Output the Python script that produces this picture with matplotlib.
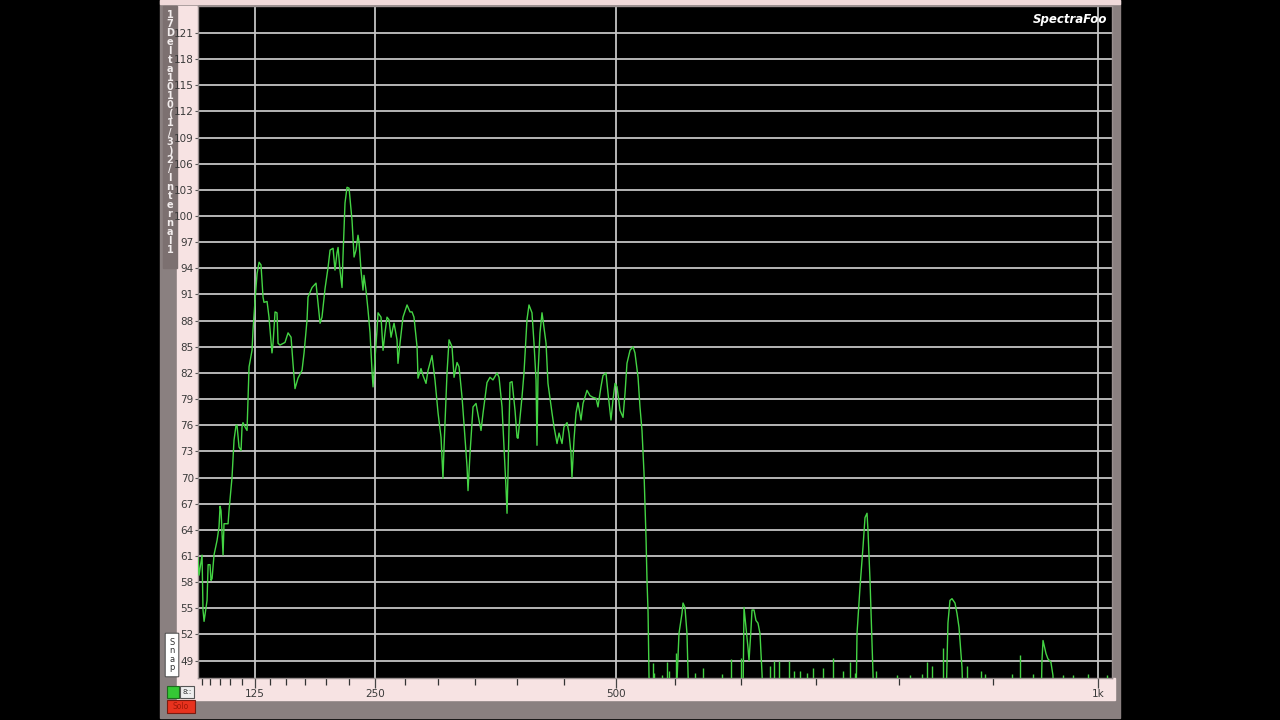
import matplotlib.pyplot as plt
from matplotlib.patches import Rectangle, FancyBboxPatch

# SpectraFoo analyser trace, frequency in Hz and level in dB
freq_hz = [65.8, 66.9, 70.0, 71.0, 72.1, 75.2, 76.3, 78.3, 79.3, 80.4, 82.4, 85.6, 87.6, 88.7, 89.7,
           91.8, 92.8, 97.0, 98.0, 101.1, 103.2, 105.3, 106.3, 108.4, 110.5, 111.5, 112.5, 114.6,
           116.7, 117.7, 118.8, 121.9, 122.9, 125.0, 127.1, 129.2, 131.2, 133.3, 134.3, 137.5,
           139.5, 142.6, 143.7, 145.8, 147.8, 148.9, 150.9, 156.1, 159.3, 162.4, 164.4, 166.5,
           169.6, 173.8, 175.9, 179.0, 180.0, 184.2, 188.3, 190.4, 192.5, 194.5, 197.7, 200.8,
           202.9, 206.0, 208.0, 210.1, 211.2, 213.2, 215.3, 216.3, 218.4, 220.5, 222.6, 225.7,
           227.8, 229.8, 231.9, 233.0, 235.0, 237.1, 238.1, 240.2, 242.3, 244.4, 246.4, 247.5,
           249.6, 251.6, 252.7, 255.8, 257.9, 259.9, 262.0, 264.1, 266.2, 268.2, 269.3, 272.4,
           273.4, 275.5, 278.6, 282.8, 285.9, 288.0, 290.0, 293.2, 294.2, 297.3, 299.4, 302.5,
           304.6, 308.7, 311.8, 315.0, 318.1, 320.1, 321.2, 324.3, 326.4, 329.5, 331.6, 334.7,
           336.8, 339.9, 341.9, 345.1, 346.1, 348.2, 351.3, 354.4, 357.5, 359.6, 361.7, 365.8,
           368.9, 372.0, 376.2, 378.3, 381.4, 383.5, 385.5, 386.6, 387.6, 389.7, 391.8, 394.9,
           397.0, 398.0, 402.1, 404.2, 407.3, 409.4, 412.5, 414.6, 416.7, 417.7, 418.8, 420.8,
           422.9, 423.9, 427.1, 429.1, 433.3, 435.4, 438.5, 440.6, 443.7, 445.7, 448.9, 450.9,
           453.0, 454.0, 456.1, 458.2, 460.3, 463.4, 465.5, 469.6, 472.7, 475.8, 479.0, 481.0,
           484.1, 486.2, 489.3, 491.4, 494.5, 496.6, 498.7, 500.8, 503.9, 507.0, 509.1, 511.1,
           514.3, 517.4, 519.4, 522.6, 524.6, 526.7, 528.8, 530.9, 531.9, 533.0, 534.0, 535.5,
           562.0, 565.1, 568.2, 569.3, 571.3, 573.4, 574.5, 575.5,
           631.5, 632.6, 634.7, 636.7, 637.8, 639.8, 640.9, 643.0, 645.0, 647.1, 649.2, 651.3, 652.5,
           748.9, 749.9, 753.0, 756.1, 758.2, 760.3, 761.3, 763.4, 765.4, 766.5, 767.5,
           842.3, 844.3, 846.4, 848.5, 851.6, 853.7, 855.8, 858.9, 860.0,
           941.0, 941.9, 943.0, 946.1, 948.1, 951.2, 953.3, 954.5, 1014.6]
level_db = [60.8, 58.8, 61.1, 54.8, 53.5, 55.9, 60.0, 60.0, 58.2, 58.4, 61.1, 62.8, 64.3, 66.7, 66.2,
            61.1, 64.7, 64.7, 66.2, 70.0, 74.3, 76.0, 76.0, 73.5, 73.1, 75.8, 76.3, 75.8,
            75.4, 78.9, 82.7, 84.6, 86.9, 90.3, 93.4, 94.7, 94.4, 90.7, 90.1, 90.2,
            88.4, 84.3, 85.4, 89.0, 88.9, 85.4, 85.2, 85.5, 86.6, 86.1, 83.1, 80.2,
            81.4, 82.3, 84.3, 88.1, 90.7, 91.8, 92.3, 90.0, 87.7, 88.4, 91.7, 94.1,
            96.1, 96.3, 93.8, 95.8, 96.4, 93.8, 91.8, 95.3, 101.5, 103.3, 103.2, 99.5,
            95.3, 96.1, 97.8, 97.0, 93.8, 91.5, 93.2, 91.5, 89.2, 86.6, 82.3, 80.4,
            83.7, 86.9, 88.9, 88.4, 84.6, 86.6, 88.4, 88.1, 86.1, 87.2, 87.7, 85.8,
            83.1, 85.4, 88.4, 89.8, 89.0, 89.0, 88.4, 85.0, 81.4, 82.5, 81.7, 80.8,
            82.3, 84.0, 81.2, 77.4, 74.6, 69.9, 73.5, 82.0, 85.8, 85.0, 81.5, 83.2,
            82.7, 79.2, 76.2, 71.2, 68.5, 72.8, 78.1, 78.5, 76.6, 75.4, 77.4, 80.9,
            81.5, 81.2, 82.0, 81.5, 78.1, 73.5, 68.9, 65.9, 70.5, 80.9, 81.0, 77.7,
            74.6, 74.5, 79.2, 82.0, 88.1, 89.8, 88.9, 85.4, 81.2, 73.7, 82.0, 86.6,
            88.9, 88.1, 85.4, 80.8, 77.4, 75.8, 73.9, 75.1, 73.9, 75.8, 76.3, 75.1,
            72.8, 70.0, 74.3, 77.4, 78.6, 76.6, 78.5, 80.0, 79.4, 79.2, 79.1, 78.1,
            80.4, 81.7, 82.0, 79.7, 76.6, 78.9, 80.8, 80.4, 77.7, 76.9, 79.7, 83.1,
            84.6, 85.0, 84.3, 81.5, 78.1, 75.4, 70.5, 63.0, 58.2, 54.5, 47.1, 44.0,
            44.0, 52.1, 54.4, 55.6, 55.1, 52.1, 47.5, 44.0,
            44.0, 55.1, 52.8, 50.5, 49.0, 52.5, 54.8, 54.8, 53.6, 53.3, 52.1, 47.5, 44.0,
            44.0, 52.1, 57.4, 62.0, 65.4, 65.9, 63.9, 58.2, 51.3, 47.5, 44.0,
            44.0, 53.3, 55.9, 56.1, 55.6, 54.4, 52.8, 48.2, 44.0,
            44.0, 49.0, 51.3, 49.8, 49.2, 48.8, 47.3, 44.0, 44.0]

# short noise spikes poking above the bottom edge
spike_hz = [538.1, 539.2, 547.5, 552.7, 554.7, 562.0, 581.7, 590.0, 609.7, 619.1, 629.5,
            659.6, 663.7, 668.9, 679.3, 684.5, 690.7, 698.0, 704.2, 714.6, 725.0, 735.3,
            742.6, 747.8, 769.6, 791.4, 804.9, 817.3, 822.5, 827.7, 839.1, 864.1, 878.6,
            882.7, 910.8, 919.1, 932.6, 963.7, 974.1, 989.7, 1009.4]
spike_db = [48.7, 47.6, 47.4, 48.8, 47.8, 49.9, 47.6, 48.2, 47.5, 49.2, 49.3,
            48.4, 49.0, 49.0, 49.0, 47.8, 47.8, 47.6, 48.2, 48.2, 49.3, 47.8,
            48.8, 47.6, 47.8, 47.4, 47.3, 47.5, 48.8, 48.4, 50.4, 48.4, 47.8,
            47.5, 47.5, 49.6, 47.5, 47.3, 47.3, 47.5, 47.3]

y_ticks = list(range(49, 122, 3))
x_ticks = [125, 250, 500, 1000]
x_tick_labels = ['125', '250', '500', '1k']
x_minor = [125 * 2 ** (k / 6) for k in range(-5, 19) if k % 6 != 0]
side_label = '17Delta1010(1/3)2/Internal1'

TRACE = '#44d444'
GRID = '#c4c4c4'
FRAME = '#8a8080'
PINK = '#f7e3e3'

fig = plt.figure(figsize=(12.8, 7.2), dpi=100)
fig.patch.set_facecolor('black')

# window chrome, drawn in pixel coordinates
bg = fig.add_axes([0, 0, 1, 1], zorder=0)
bg.set_xlim(0, 1280)
bg.set_ylim(720, 0)
bg.axis('off')
bg.add_patch(Rectangle((160, 0), 960, 718, color=FRAME))
bg.add_patch(Rectangle((160, 0), 960, 4, color='#f0dada'))
bg.add_patch(Rectangle((177, 6), 21, 672, color=PINK))
bg.add_patch(Rectangle((177, 678), 938, 22, color=PINK))
bg.add_patch(Rectangle((163, 6), 14, 262, color='#7c7070'))
bg.text(170, 10, '\n'.join(side_label), color='#f2ecec', fontsize=7, fontweight='bold',
        ha='center', va='top', linespacing=0.88)
bg.add_patch(FancyBboxPatch((166, 634), 12, 42, boxstyle='round,pad=0.8',
                            fc='white', ec='#555555', lw=0.8))
bg.text(172, 655, 'S\nn\na\np', fontsize=6, ha='center', va='center', linespacing=0.95,
        color='#333333')
bg.add_patch(Rectangle((167, 686), 12, 12, fc='#35c835', ec='#1d6b1d', lw=0.8))
bg.add_patch(Rectangle((180, 686), 14, 12, fc='#eeeeee', ec='#555555', lw=0.8))
bg.text(187, 692, '8::', fontsize=5, ha='center', va='center', color='#333333')
bg.add_patch(Rectangle((167, 700), 28, 13, fc='#e8321e', ec='#7a1a10', lw=0.8))
bg.text(181, 706.5, 'Solo', fontsize=5.5, ha='center', va='center', color='#a01808')

# analyser plot area
ax = fig.add_axes([198 / 1280, 42 / 720, 914 / 1280, 672 / 720], zorder=1)
ax.set_facecolor('black')
ax.set_xlim(65.8, 1014.6)
ax.set_ylim(47.0, 124.1)

for yv in y_ticks:
    ax.axhline(yv, color=GRID, lw=1.3, zorder=1)
for xv in x_ticks:
    ax.axvline(xv, color=GRID, lw=1.3, zorder=1)

ax.plot(freq_hz, level_db, color=TRACE, lw=1.0, zorder=3)
ax.vlines(spike_hz, 44.0, spike_db, color=TRACE, lw=1.0, zorder=3)

ax.text(0.995, 0.99, 'SpectraFoo', transform=ax.transAxes, color='white', fontsize=8.5,
        fontweight='bold', style='italic', ha='right', va='top')

ax.set_yticks(y_ticks)
ax.set_yticklabels([str(v) for v in y_ticks])
ax.set_xticks(x_ticks)
ax.set_xticklabels(x_tick_labels)
ax.set_xticks(x_minor, minor=True)
ax.tick_params(axis='y', colors='#555555', labelcolor='#3a3a3a', labelsize=7.5,
               length=2.5, width=0.8, pad=0.5)
ax.tick_params(axis='x', which='major', colors='#444444', labelcolor='#3a3a3a',
               labelsize=7.5, length=7, width=0.9, pad=1)
ax.tick_params(axis='x', which='minor', colors='#333333', length=5, width=0.9)
for side in ax.spines.values():
    side.set_color('#9a9090')
    side.set_linewidth(1)

fig.savefig('out.png', dpi=100, facecolor=fig.get_facecolor())
